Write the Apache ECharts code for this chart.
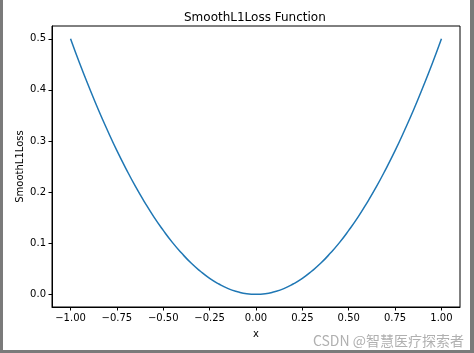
<!DOCTYPE html>
<html>
<head>
<meta charset="utf-8">
<script src="https://cdn.jsdelivr.net/npm/echarts@6/dist/echarts.min.js"></script>
<style>
  html, body { margin: 0; padding: 0; background: #7a7a7a; }
  #chart { position: absolute; left: 3px; top: 0; width: 467px; height: 350px; background: #fff; }
</style>
</head>
<body>
<div id="chart"></div>
<script>
// points
const xs = [-1.0, -0.95, -0.9, -0.85, -0.8, -0.75, -0.7, -0.65, -0.6, -0.55, -0.5,
            -0.45, -0.4, -0.35, -0.3, -0.25, -0.2, -0.15, -0.1, -0.05, 0.0,
            0.05, 0.1, 0.15, 0.2, 0.25, 0.3, 0.35, 0.4, 0.45, 0.5,
            0.55, 0.6, 0.65, 0.7, 0.75, 0.8, 0.85, 0.9, 0.95, 1.0];
const ys = [0.5, 0.451, 0.405, 0.361, 0.32, 0.281, 0.245, 0.211, 0.18, 0.151, 0.125,
            0.101, 0.08, 0.061, 0.045, 0.031, 0.02, 0.011, 0.005, 0.001, 0.0,
            0.001, 0.005, 0.011, 0.02, 0.031, 0.045, 0.061, 0.08, 0.101, 0.125,
            0.151, 0.18, 0.211, 0.245, 0.281, 0.32, 0.361, 0.405, 0.451, 0.5];
const xTicks = [-1.0, -0.75, -0.5, -0.25, 0.0, 0.25, 0.5, 0.75, 1.0];
const yTicks = [0.0, 0.1, 0.2, 0.3, 0.4, 0.5];

const font = 'DejaVu Sans';
const chart = echarts.init(document.getElementById('chart'));

function fmt(v, d) {
  return v.toFixed(d).replace('-', '\u2212');
}

chart.setOption({
  animation: false,
  title: {
    text: 'SmoothL1Loss Function',
    left: 176,
    top: 7,
    textStyle: { fontFamily: font, fontSize: 12, fontWeight: 'normal', color: '#000' }
  },
  grid: {
    left: 49, right: 10, top: 26, bottom: 43,
    show: true, borderColor: '#000', borderWidth: 1
  },
  xAxis: {
    type: 'value',
    min: -1.1, max: 1.1,
    name: 'x',
    nameLocation: 'middle',
    nameGap: 22,
    nameMoveOverlap: false,
    nameTextStyle: { fontFamily: font, fontSize: 10, color: '#000' },
    splitLine: { show: false },
    axisLine: { show: true, onZero: false, lineStyle: { color: '#000' } },
    axisTick: { show: true, length: 3.5, customValues: xTicks, lineStyle: { color: '#000' } },
    axisLabel: {
      customValues: xTicks,
      margin: 6,
      fontFamily: font, fontSize: 10, color: '#000',
      formatter: v => fmt(v, 2)
    }
  },
  yAxis: {
    type: 'value',
    min: -0.025, max: 0.525,
    name: 'SmoothL1Loss',
    nameLocation: 'middle',
    nameGap: 27,
    nameMoveOverlap: false,
    nameTextStyle: { fontFamily: font, fontSize: 10, color: '#000' },
    splitLine: { show: false },
    axisLine: { show: true, onZero: false, lineStyle: { color: '#000' } },
    axisTick: { show: true, length: 3.5, customValues: yTicks, lineStyle: { color: '#000' } },
    axisLabel: {
      customValues: yTicks,
      margin: 6,
      fontFamily: font, fontSize: 10, color: '#000',
      formatter: v => fmt(v, 1)
    }
  },
  graphic: [{
    type: 'text',
    right: 6,
    top: 334,
    style: {
      text: 'CSDN @智慧医疗探索者',
      fontFamily: 'Noto Sans CJK SC',
      fontSize: 14,
      fill: '#b0b0b0'
    }
  }],
  series: [{
    type: 'line',
    data: xs.map((x, i) => [x, ys[i]]),
    smooth: true,
    showSymbol: false,
    lineStyle: { color: '#1f77b4', width: 1.5 }
  }]
});
</script>
</body>
</html>
